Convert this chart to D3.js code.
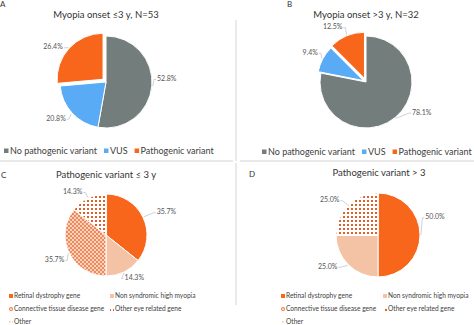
<!DOCTYPE html>
<html>
<head>
<meta charset="utf-8">
<script src="https://cdn.jsdelivr.net/npm/d3@7"></script>
<style>
  body { margin: 0; background: #fff; }
  svg { display: block; font-family: Lato, "Liberation Sans", sans-serif; }
</style>
</head>
<body>
<svg id="chart" width="474" height="325"></svg>
<script>
// data
var onsetCats = ["No pathogenic variant", "VUS", "Pathogenic variant"];
var onsetLe3 = [52.8, 20.8, 26.4];
var onsetGt3 = [78.1, 9.4, 12.5];

var geneCats = ["Retinal dystrophy gene", "Non syndromic high myopia",
                "Connective tissue disease gene", "Other eye related gene", "Other"];
var geneLe3 = [35.7, 14.3, 35.7, 14.3, 0];
var geneGt3 = [50.0, 25.0, 0, 25.0, 0];

var titles = ["Myopia onset \u22643 y, N=53", "Myopia onset >3 y, N=32",
              "Pathogenic variant \u2264 3 y", "Pathogenic variant > 3"];
var panelLetters = ["A", "B", "C", "D"];

var svg = d3.select("#chart");

// fills
var defs = svg.append("defs");
var orange = "#f8661c";

var p1 = defs.append("pattern").attr("id", "patConn")
  .attr("patternUnits", "userSpaceOnUse").attr("width", 4).attr("height", 4);
p1.append("rect").attr("width", 4).attr("height", 4).attr("fill", "#fbd3bf");
p1.append("rect").attr("width", 2).attr("height", 2).attr("fill", "#f0885a");
p1.append("rect").attr("x", 2).attr("y", 2).attr("width", 2).attr("height", 2).attr("fill", "#f0885a");

var p2 = defs.append("pattern").attr("id", "patEye")
  .attr("patternUnits", "userSpaceOnUse").attr("width", 4).attr("height", 4);
p2.append("rect").attr("width", 4).attr("height", 4).attr("fill", "#fff");
p2.append("rect").attr("x", 1).attr("y", 1).attr("width", 2).attr("height", 2).attr("fill", "#de5f27");

var p3 = defs.append("pattern").attr("id", "patOther")
  .attr("patternUnits", "userSpaceOnUse").attr("width", 3).attr("height", 3);
p3.append("rect").attr("width", 3).attr("height", 3).attr("fill", "#fff");
p3.append("rect").attr("width", 1.5).attr("height", 1.5).attr("fill", "#f2c19f");

var onsetColor = d3.scaleOrdinal().domain(onsetCats).range(["#737d7c", "#5aabf6", orange]);
var geneColor = d3.scaleOrdinal().domain(geneCats)
  .range([orange, "#f4c3a6", "url(#patConn)", "url(#patEye)", "url(#patOther)"]);

// layout of the four panels
var panels = [
  {vals: onsetLe3, cats: onsetCats, color: onsetColor, cx: 106, cy: 82, r: 46,
   explode: [0, 0, 4], nudge: [[0, -9], [-5, -5], [-8, 6]],
   title: [106, 18], letter: [0, 7]},
  {vals: onsetGt3, cats: onsetCats, color: onsetColor, cx: 366, cy: 82, r: 46,
   explode: [0, 3, 4], nudge: [[17, -17], [-2, -1], [-10, 1]],
   title: [366, 18], letter: [287, 7]},
  {vals: geneLe3, cats: geneCats, color: geneColor, cx: 106, cy: 235, r: 41,
   explode: [0, 0, 0, 0, 0], nudge: [[10, 1], [4, -8], [-1, 0], [-9, 7], [0, 0]],
   title: [106, 178], letter: [1, 178]},
  {vals: geneGt3, cats: geneCats, color: geneColor, cx: 378, cy: 235, r: 42,
   explode: [0, 0, 0, 0, 0], nudge: [[0, -18], [-10, -9], [0, 0], [-8, 5], [0, 0]],
   title: [379, 176], letter: [249, 177]}
];

// divider lines
var lines = [[236, 20, 236, 161], [0, 161, 233, 161], [240, 161, 474, 161], [236, 163, 236, 305]];
svg.selectAll("line.div").data(lines).enter().append("line")
  .attr("class", "div")
  .attr("x1", function(d){ return d[0]; }).attr("y1", function(d){ return d[1]; })
  .attr("x2", function(d){ return d[2]; }).attr("y2", function(d){ return d[3]; })
  .attr("stroke", "#d4d4d4").attr("stroke-width", 1);

var pie = d3.pie().sort(null).value(function(d){ return d; });

panels.forEach(function(p, pi) {
  var g = svg.append("g").attr("transform", "translate(" + p.cx + "," + p.cy + ")");
  var arc = d3.arc().innerRadius(0).outerRadius(p.r);
  var arcs = pie(p.vals);

  g.selectAll("path").data(arcs).enter().append("path")
    .attr("d", arc)
    .attr("transform", function(d, i) {
      var m = (d.startAngle + d.endAngle) / 2, e = p.explode[i];
      return "translate(" + (Math.sin(m) * e) + "," + (-Math.cos(m) * e) + ")";
    })
    .attr("fill", function(d, i){ return p.color(p.cats[i]); })
    .attr("stroke", "#fff").attr("stroke-width", 1);

  // data labels with leader lines
  arcs.forEach(function(d, i) {
    if (d.value <= 0) return;
    var m = (d.startAngle + d.endAngle) / 2;
    var lr = p.r + 15;
    var lx = Math.sin(m) * lr + p.nudge[i][0], ly = -Math.cos(m) * lr + p.nudge[i][1];
    var t = g.append("text").attr("x", lx).attr("y", ly).attr("dy", "0.35em")
      .attr("text-anchor", "middle").attr("font-size", 7).attr("fill", "#555")
      .text(d.value.toFixed(1) + "%");
    var w = t.node().getComputedTextLength();
    var sx = Math.sin(m) * (p.r + 1 + p.explode[i]), sy = -Math.cos(m) * (p.r + 1 + p.explode[i]);
    var ex = lx + (sx < lx ? -w / 2 - 1 : w / 2 + 1);
    g.append("polyline")
      .attr("points", [[sx, sy], [ex - (sx < lx ? 2 : -2), ly + 1], [ex, ly + 1]].join(" "))
      .attr("fill", "none").attr("stroke", "#bdbdbd").attr("stroke-width", 0.7);
  });

  svg.append("text").attr("x", p.title[0]).attr("y", p.title[1])
    .attr("text-anchor", "middle").attr("font-size", 9.5).attr("fill", "#333")
    .text(titles[pi]);
  svg.append("text").attr("x", p.letter[0]).attr("y", p.letter[1])
    .attr("font-size", 8).attr("fill", "#333").text(panelLetters[pi]);
});

// legends for top row: one line
function onsetLegend(x0, y) {
  var x = x0;
  onsetCats.forEach(function(c) {
    svg.append("rect").attr("x", x).attr("y", y - 2.5).attr("width", 4.5).attr("height", 4.5)
      .attr("fill", onsetColor(c));
    var t = svg.append("text").attr("x", x + 6).attr("y", y).attr("dy", "0.35em")
      .attr("font-size", 9).attr("fill", "#404040").text(c);
    x += 6 + t.node().getComputedTextLength() + 7;
  });
}
onsetLegend(4, 151);
onsetLegend(262, 152);

// legends for bottom row: two columns
function geneLegend(x0, x1, y0) {
  geneCats.forEach(function(c, i) {
    var x = i % 2 === 0 ? x0 : x1, y = y0 + Math.floor(i / 2) * 13;
    svg.append("rect").attr("x", x).attr("y", y - 2).attr("width", 4).attr("height", 4)
      .attr("fill", geneColor(c));
    svg.append("text").attr("x", x + 5).attr("y", y).attr("dy", "0.35em")
      .attr("font-size", 6.6).attr("fill", "#404040").text(c);
  });
}
geneLegend(9, 110, 296);
geneLegend(281, 383, 296);
</script>
</body>
</html>
